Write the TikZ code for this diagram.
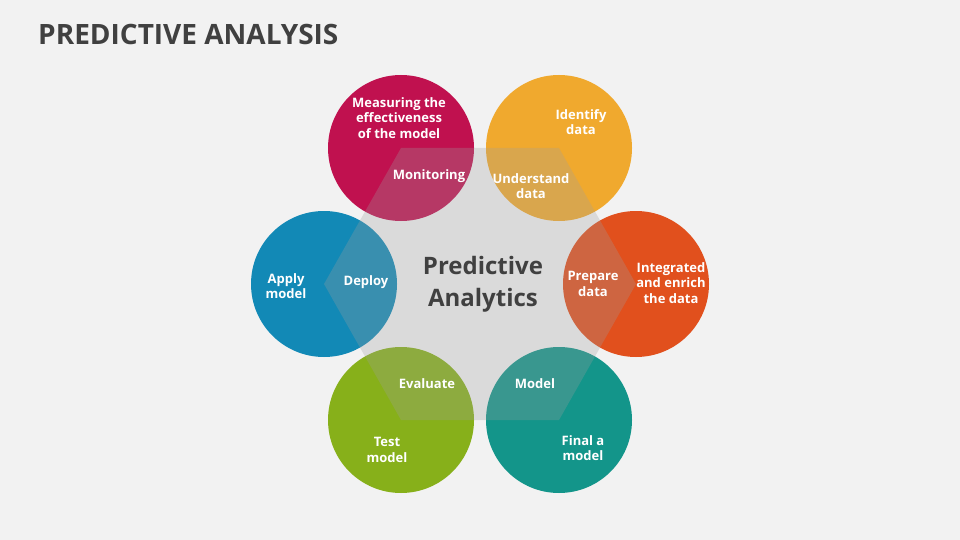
\documentclass[tikz,border=0pt]{standalone}
\usepackage{fontspec}
\setmainfont{Open Sans}
\definecolor{bg}{HTML}{F2F2F2}
\definecolor{cMon}{HTML}{C0114F}
\definecolor{cIde}{HTML}{F0A92E}
\definecolor{cPre}{HTML}{E1501D}
\definecolor{cMod}{HTML}{13958A}
\definecolor{cEva}{HTML}{87B01A}
\definecolor{cDep}{HTML}{1289B6}
\definecolor{ink}{HTML}{404040}
\begin{document}
\begin{tikzpicture}[x=1pt,y=-1pt,
  circ/.style={circle,minimum size=146pt,inner sep=0pt},
  lbl/.style={text=white,font=\fontsize{13}{15.5}\selectfont\bfseries,align=center,inner sep=0pt}]
\fill[bg] (0,0) rectangle (960,540);
\useasboundingbox (0,0) rectangle (960,540);
\node[anchor=west,text=ink,font=\fontsize{28}{32}\selectfont\bfseries,inner sep=0pt] (title) at (38,35) {PREDICTIVE ANALYSIS};
\node[circ,fill=cMon] (mon) at (401,148) {};
\node[circ,fill=cIde] (ide) at (559,148) {};
\node[circ,fill=cPre] (pre) at (636,284) {};
\node[circ,fill=cMod] (mod) at (559,420) {};
\node[circ,fill=cEva] (eva) at (401,420) {};
\node[circ,fill=cDep] (dep) at (324,284) {};
\fill[gray!75,opacity=0.28] (mon.center) -- (ide.center) -- (pre.center) -- (mod.center) -- (eva.center) -- (dep.center) -- cycle;
\node[text=ink,font=\fontsize{24}{32}\selectfont\bfseries,align=center] (ctr) at (483,284) {Predictive\\Analytics};
\node[lbl] (l1) at (429,176) {Monitoring};
\node[lbl] (l2) at (531,186) {Understand\\data};
\node[lbl] (l3) at (593,284) {Prepare\\data};
\node[lbl] (l4) at (535,384) {Model};
\node[lbl] (l5) at (427,384) {Evaluate};
\node[lbl] (l6) at (366,282) {Deploy};
\node[lbl] (o1) at (399,118) {Measuring the\\effectiveness\\of the model};
\node[lbl] (o2) at (581,122) {Identify\\data};
\node[lbl] (o3) at (671,283) {Integrated\\and enrich\\the data};
\node[lbl] (o4) at (583,448) {Final a\\model};
\node[lbl] (o5) at (387,450) {Test\\model};
\node[lbl] (o6) at (286,286) {Apply\\model};
\end{tikzpicture}
\end{document}
